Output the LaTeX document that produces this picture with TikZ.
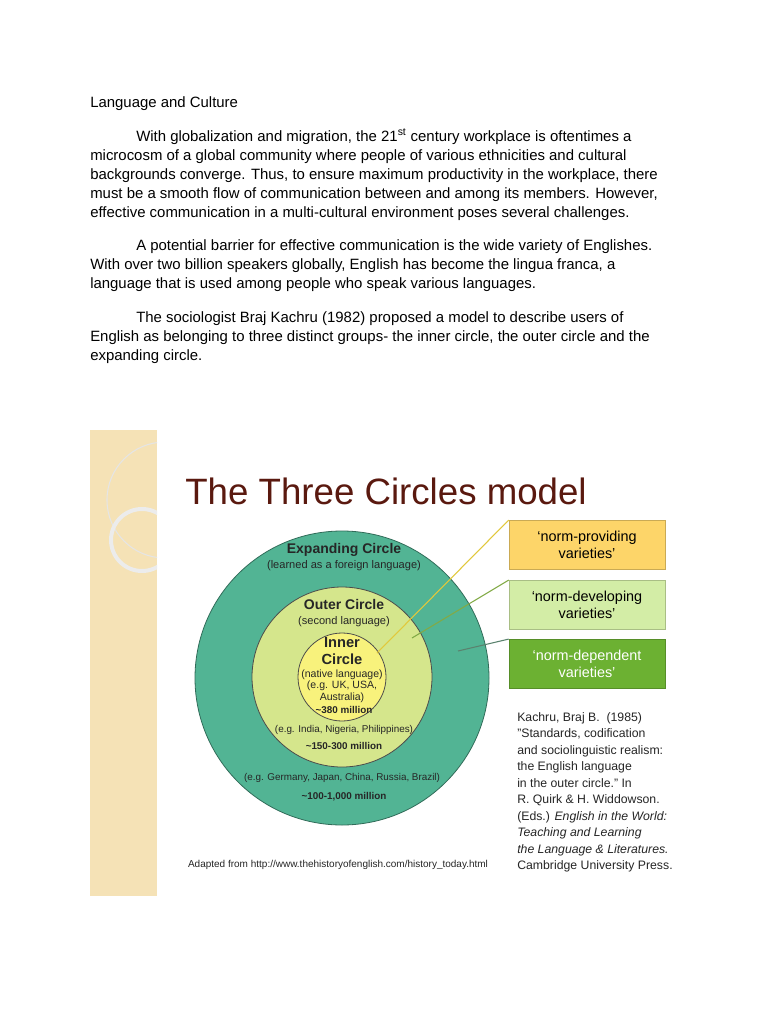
\documentclass[tikz,border=0pt]{standalone}
\usepackage{fontspec}
\setmainfont{Liberation Sans}
\definecolor{boxA}{RGB}{253,213,105}
\definecolor{boxB}{RGB}{211,237,166}
\definecolor{boxC}{RGB}{108,177,50}
\definecolor{leadA}{RGB}{225,200,60}
\definecolor{leadB}{RGB}{130,170,70}
\definecolor{leadC}{RGB}{90,130,110}
\definecolor{titlec}{RGB}{90,25,15}
\definecolor{strip}{HTML}{F5E2B6}
\definecolor{outerc}{HTML}{52B494}
\definecolor{midc}{HTML}{D5E68C}
\definecolor{innc}{HTML}{F8F27C}
\begin{document}
\begin{tikzpicture}[x=0.75pt,y=-0.75pt,
  body/.style={anchor=base west,inner sep=0,font=\fontsize{11.2}{13}\selectfont},
  ctext/.style={inner sep=0,align=center,text=black!85},
  cite/.style={anchor=base west,inner sep=0,font=\fontsize{9.2}{11}\selectfont,text=black!85},
  vbox/.style={draw=#1!80!black,line width=0.4pt,fill=#1,minimum width=117pt,minimum height=37pt,align=center,font=\fontsize{10.8}{13}\selectfont,inner sep=0},
  lead/.style={line width=0.8pt}]
\useasboundingbox (0,0) rectangle (768,1024);
\fill[white] (0,0) rectangle (768,1024);
% text
\node[body] (h) at (90,108) {Language and Culture};
\node[body] (p1) at (136,141) {With globalization and migration, the 21\textsuperscript{st} century workplace is oftentimes a};
\node[body] (p2) at (90,160) {microcosm of a global community where people of various ethnicities and cultural};
\node[body] (p3) at (90,179) {backgrounds converge. Thus, to ensure maximum productivity in the workplace, there};
\node[body] (p4) at (90,198) {must be a smooth flow of communication between and among its members. However,};
\node[body] (p5) at (90,217) {effective communication in a multi-cultural environment poses several challenges.};
\node[body] (q1) at (136,250) {A potential barrier for effective communication is the wide variety of Englishes.};
\node[body] (q2) at (90,269) {With over two billion speakers globally, English has become the lingua franca, a};
\node[body] (q3) at (90,288) {language that is used among people who speak various languages.};
\node[body] (r1) at (136,322) {The sociologist Braj Kachru (1982) proposed a model to describe users of};
\node[body] (r2) at (90,341) {English as belonging to three distinct groups- the inner circle, the outer circle and the};
\node[body] (r3) at (90,360) {expanding circle.};
% figure panel
\fill[strip] (90,430) rectangle (157,896);
\begin{scope}
\clip (90,430) rectangle (157,896);
\draw[white!80!gray,line width=0.8pt] (165,500) circle (58);
\draw[white!85!gray,line width=3pt] (142,540) circle (31);
\end{scope}
\node[inner sep=0,text=titlec,font=\fontsize{27.5}{30}\selectfont] (title) at (386,491) {The Three Circles model};
% circles
\draw[fill=outerc,draw=outerc!60!black,line width=0.6pt] (342,678) circle (147);
\draw[fill=midc,draw=black!70,line width=0.6pt] (342,677) circle (90);
\draw[fill=innc,draw=black!70,line width=0.6pt] (342,677) circle (44);
\node[ctext,font=\bfseries\fontsize{10.5}{11}\selectfont] (e1) at (344,550) {Expanding Circle};
\node[ctext,font=\fontsize{8.3}{9}\selectfont] (e2) at (344,566) {(learned as a foreign language)};
\node[ctext,font=\bfseries\fontsize{10.5}{11}\selectfont] (o1) at (344,604) {Outer Circle};
\node[ctext,font=\fontsize{8.3}{9}\selectfont] (o2) at (344,622) {(second language)};
\node[ctext,font=\bfseries\fontsize{11}{13}\selectfont] (i1) at (342,651) {Inner\\Circle};
\node[ctext,font=\fontsize{7.9}{8.6}\selectfont] (i2) at (342,686) {(native language)\\(e.g. UK, USA,\\Australia)};
\node[ctext,font=\bfseries\fontsize{7.4}{8}\selectfont] (i3) at (344,710) {\textasciitilde380 million};
\node[ctext,font=\fontsize{7.4}{8}\selectfont] (o3) at (344,730) {(e.g. India, Nigeria, Philippines)};
\node[ctext,font=\bfseries\fontsize{7.4}{8}\selectfont] (o4) at (344,746) {\textasciitilde150-300 million};
\node[ctext,font=\fontsize{7.4}{8}\selectfont] (e3) at (342,778) {(e.g. Germany, Japan, China, Russia, Brazil)};
\node[ctext,font=\bfseries\fontsize{7.4}{8}\selectfont] (e4) at (344,797) {\textasciitilde100-1,000 million};
\node[ctext,font=\fontsize{7.5}{8}\selectfont] (src) at (338,865) {Adapted from http://www.thehistoryofenglish.com/history\_today.html};
% boxes
\node[vbox=boxA] (b1) at (587,545) {`norm-providing\\varieties'};
\node[vbox=boxB] (b2) at (587,605) {`norm-developing\\varieties'};
\node[vbox=boxC,text=white] (b3) at (587,664) {`norm-dependent\\varieties'};
\coordinate (a1) at (377,653);
\coordinate (a2) at (412,638);
\coordinate (a3) at (458,651);
\draw[lead,draw=leadA] (a1) -- (b1.north west);
\draw[lead,draw=leadB] (a2) -- (b2.north west);
\draw[lead,draw=leadC] (a3) -- (b3.north west);
% citation
\node[cite] (c1) at (517,721) {Kachru, Braj B.\ \ (1985)};
\node[cite] (c2) at (517,737.5) {"Standards, codification};
\node[cite] (c3) at (517,754) {and sociolinguistic realism:};
\node[cite] (c4) at (517,770.5) {the English language};
\node[cite] (c5) at (517,787) {in the outer circle." In};
\node[cite] (c6) at (517,803.5) {R. Quirk \& H. Widdowson.};
\node[cite] (c7) at (517,820) {(Eds.) \textit{English in the World:}};
\node[cite] (c8) at (517,836.5) {\textit{Teaching and Learning}};
\node[cite] (c9) at (517,853) {\textit{the Language \& Literatures.}};
\node[cite] (c10) at (517,869.5) {Cambridge University Press.};
\end{tikzpicture}
\end{document}
